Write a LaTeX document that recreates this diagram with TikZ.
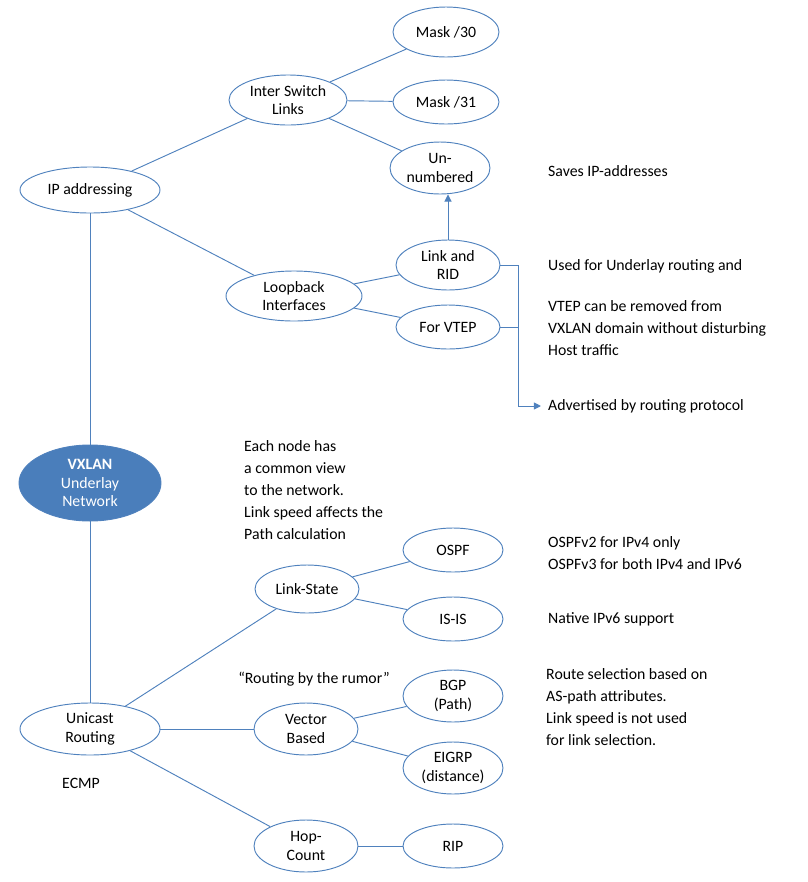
\documentclass[tikz,border=0pt]{standalone}
\usepackage{fontspec}
\setmainfont{Carlito}
\usetikzlibrary{shapes.geometric,arrows.meta}
\definecolor{lineblue}{HTML}{4F81BD}
\definecolor{fillblue}{HTML}{4A7EBB}
\tikzset{
  bub/.style 2 args={ellipse, draw=lineblue, thick, inner sep=0pt, align=center,
    minimum width=#1cm, minimum height=#2cm, font=\fontsize{13.5}{16}\selectfont},
  note/.style={anchor=west, align=left, inner sep=0pt, font=\fontsize{13.5}{18.7}\selectfont},
  link/.style={draw=lineblue, thick}
}
\begin{document}
\begin{tikzpicture}[x=0.03cm, y=-0.03cm]
    \useasboundingbox (0,0) rectangle (808,882);
    % IP addressing branch
    \node[bub={4.2}{1.38}] (ip) at (90,190) {IP addressing};
    \node[bub={3.54}{1.5}] (isl) at (288,100) {Inter Switch\\Links};
    \node[bub={3.18}{1.5}] (m30) at (446,32) {Mask /30};
    \node[bub={3.18}{1.32}] (m31) at (446,102) {Mask /31};
    \node[bub={3.0}{1.56}] (unn) at (440,168) {Un-\\numbered};
    \node[bub={4.08}{1.5}] (lb) at (294,296) {Loopback\\Interfaces};
    \node[bub={3.12}{1.5}] (rid) at (448,265) {Link and\\RID};
    \node[bub={3.12}{1.32}] (vtep) at (448,327) {For VTEP};
    
    % Root
    \node[bub={4.26}{2.28}, fill=fillblue, text=white] (vx) at (90,483) {\textbf{VXLAN}\\Underlay\\Network};
    
    % Unicast routing branch
    \node[bub={4.2}{1.56}] (uni) at (90,729) {Unicast\\Routing};
    \node[bub={3.12}{1.44}] (ls) at (307,589) {Link-State};
    \node[bub={3.0}{1.32}] (ospf) at (453,550) {OSPF};
    \node[bub={3.0}{1.32}] (isis) at (453,619) {IS-IS};
    \node[bub={3.12}{1.56}] (vb) at (306,729) {Vector\\Based};
    \node[bub={3.0}{1.56}] (bgp) at (453,696) {BGP\\(Path)};
    \node[bub={3.0}{1.56}] (eig) at (453,768) {EIGRP\\(distance)};
    \node[bub={3.12}{1.56}] (hop) at (306,846) {Hop-\\Count};
    \node[bub={3.0}{1.32}] (rip) at (453,846) {RIP};
    
    % Notes
    \node[note] (n1) at (548,171) {Saves IP-addresses};
    \node[note] (n2) at (548,266) {Used for Underlay routing and};
    \node[note] (n3) at (548,328) {VTEP can be removed from\\VXLAN domain without disturbing\\Host traffic};
    \node[note] (n4) at (548,406) {Advertised by routing protocol};
    \node[note] (n5) at (244,490) {Each node has\\a common view\\to the network.\\Link speed affects the\\Path calculation};
    \node[note] (n6) at (548,553) {OSPFv2 for IPv4 only\\OSPFv3 for both IPv4 and IPv6};
    \node[note] (n7) at (548,619) {Native IPv6 support};
    \node[note] (n8) at (546,707) {Route selection based on\\AS-path attributes.\\Link speed is not used\\for link selection.};
    \node[note, anchor=center] (n9) at (314,679) {“Routing by the rumor”};
    \node[note] (n10) at (62,783) {ECMP};
    
    % Connections
    \draw[link] (vx) -- (ip);
    \draw[link] (vx) -- (uni);
    \draw[link] (ip) -- (isl);
    \draw[link] (ip) -- (lb);
    \draw[link] (isl) -- (m30);
    \draw[link] (isl) -- (m31);
    \draw[link] (isl) -- (unn);
    \draw[link] (lb) -- (rid);
    \draw[link] (lb) -- (vtep);
    \draw[link, -{Triangle[length=6pt,width=6pt]}] (rid.north) -- (unn.south -| rid.north);
    \coordinate (j1) at (518,265);
    \coordinate (j2) at (518,327);
    \coordinate (j3) at (518,406);
    \draw[link] (rid.east) -- (j1) -- (j3);
    \draw[link] (vtep.east) -- (j2);
    \draw[link, -{Triangle[length=6pt,width=6pt]}] (j3) -- ([xshift=-6pt]n4.west);
    
    \draw[link] (uni) -- (ls);
    \draw[link] (uni) -- (vb);
    \draw[link] (uni) -- (hop);
    \draw[link] (ls) -- (ospf);
    \draw[link] (ls) -- (isis);
    \draw[link] (vb) -- (bgp);
    \draw[link] (vb) -- (eig);
    \draw[link] (hop) -- (rip);
\end{tikzpicture}
\end{document}
